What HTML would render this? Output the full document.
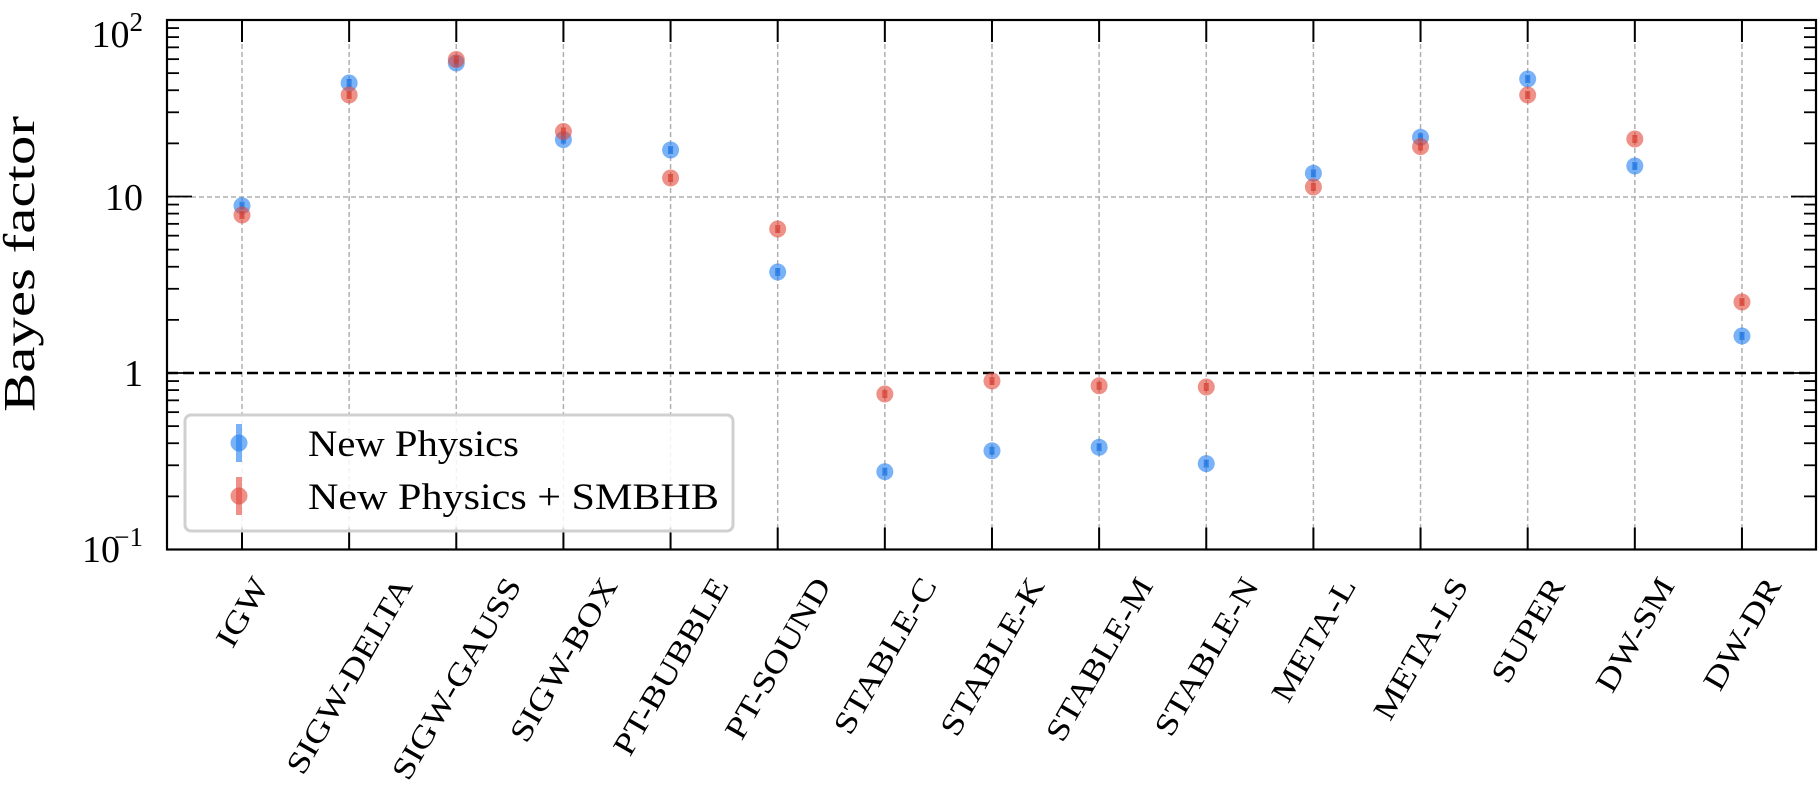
<!DOCTYPE html>
<html><head><meta charset="utf-8"><style>
html,body{margin:0;padding:0;background:#fff;}
svg{display:block;font-family:"Liberation Serif","DejaVu Serif",serif;}
</style></head><body>
<svg id="s" width="1818" height="785" xmlns="http://www.w3.org/2000/svg"></svg>
<script>
const s=document.getElementById('s');
const L=167,R=1816,T=20,B=549.5,D=176.5;
let h='';
const names=["IGW","SIGW-DELTA","SIGW-GAUSS","SIGW-BOX","PT-BUBBLE","PT-SOUND","STABLE-C","STABLE-K","STABLE-M","STABLE-N","META-L","META-LS","SUPER","DW-SM","DW-DR"];
const X=i=>242+i*107.14;
for(let i=0;i<15;i++)h+=`<line x1="${X(i)}" y1="${T}" x2="${X(i)}" y2="${B}" stroke="#b0b0b0" stroke-width="1.5" stroke-dasharray="5,3"/>`;
h+=`<line x1="${L}" y1="197" x2="${R}" y2="197" stroke="#b0b0b0" stroke-width="1.5" stroke-dasharray="5,3"/>`;
h+=`<line x1="${L}" y1="373" x2="${R}" y2="373" stroke="#000" stroke-width="2.5" stroke-dasharray="11,5"/>`;
for(let i=0;i<15;i++){h+=`<line x1="${X(i)}" y1="${B}" x2="${X(i)}" y2="${B-22}" stroke="#000" stroke-width="2"/><line x1="${X(i)}" y1="${T}" x2="${X(i)}" y2="${T+22}" stroke="#000" stroke-width="2"/>`;}
for(let d=-1;d<2;d++)for(let k=1;k<10;k++){const y=373-(d+Math.log10(k))*D;const len=k==1?25:12;
 if(k==1&&d==-1)continue;
 h+=`<line x1="${L}" y1="${y}" x2="${L+len}" y2="${y}" stroke="#000" stroke-width="1.8"/><line x1="${R}" y1="${y}" x2="${R-len}" y2="${y}" stroke="#000" stroke-width="1.8"/>`;}
const blue=[205.7,83,63,139.6,150,272,471.7,450.8,447.3,463.6,173.3,137.3,79,166,336];
const red=[215,95,59.5,131.5,178,229,394,381,385.8,387,187,146.6,95,139,302];
function pt(x,y,c,d){return `<circle cx="${x}" cy="${y}" r="8.5" fill="${c}" fill-opacity="0.6"/><rect x="${x-2.5}" y="${y-4}" width="5" height="8" fill="${d}" fill-opacity="0.7"/>`;}
for(let i=0;i<15;i++){h+=pt(X(i),blue[i],'#1f7ff0','#1a6fe0');h+=pt(X(i),red[i],'#e3483b','#d63a2e');}
h+=`<rect x="${L}" y="${T}" width="${R-L}" height="${B-T}" fill="none" stroke="#000" stroke-width="2.2"/>`;
h+=`<text x="143" y="47" font-size="38" text-anchor="end">10<tspan dy="-16" font-size="27">2</tspan></text>`;
h+=`<text x="143" y="210" font-size="38" text-anchor="end">10</text>`;
h+=`<text x="143" y="386" font-size="38" text-anchor="end">1</text>`;
h+=`<text x="120" y="562" font-size="38" text-anchor="end">10</text><text x="143" y="546" font-size="27" text-anchor="end">−1</text>`;
h+=`<text transform="translate(34,264) rotate(-90)" font-size="44" text-anchor="middle" textLength="296" lengthAdjust="spacingAndGlyphs">Bayes factor</text>`;
h+=`<rect x="185" y="415" width="548" height="116" rx="6" fill="#fff" fill-opacity="0.85" stroke="#d0d0d0" stroke-width="3"/>`;
h+=`<rect x="236" y="424" width="6" height="38" fill="#1f7ff0" fill-opacity="0.6"/><circle cx="239" cy="443" r="8.5" fill="#1f7ff0" fill-opacity="0.6"/>`;
h+=`<rect x="236" y="477" width="6" height="38" fill="#e3483b" fill-opacity="0.6"/><circle cx="239" cy="496" r="8.5" fill="#e3483b" fill-opacity="0.6"/>`;
h+=`<text x="308" y="456" font-size="37" textLength="211" lengthAdjust="spacingAndGlyphs">New Physics</text><text x="308" y="509" font-size="37" textLength="411" lengthAdjust="spacingAndGlyphs">New Physics + SMBHB</text>`;
s.innerHTML=h;
const ns='http://www.w3.org/2000/svg';
for(let i=0;i<15;i++){const t=document.createElementNS(ns,'text');t.setAttribute('font-size','31');t.setAttribute('text-anchor','middle');t.setAttribute('dominant-baseline','central');t.textContent=names[i];s.appendChild(t);
 const len0=t.getComputedTextLength();const len=len0*1.2;
 t.setAttribute('textLength',len.toFixed(1));t.setAttribute('lengthAdjust','spacingAndGlyphs');
 const hh=24;const bh=len*0.866+hh*0.5;
 t.setAttribute('transform',`translate(${X(i)},${574+bh/2}) rotate(-60)`);}
</script>
</body></html>
